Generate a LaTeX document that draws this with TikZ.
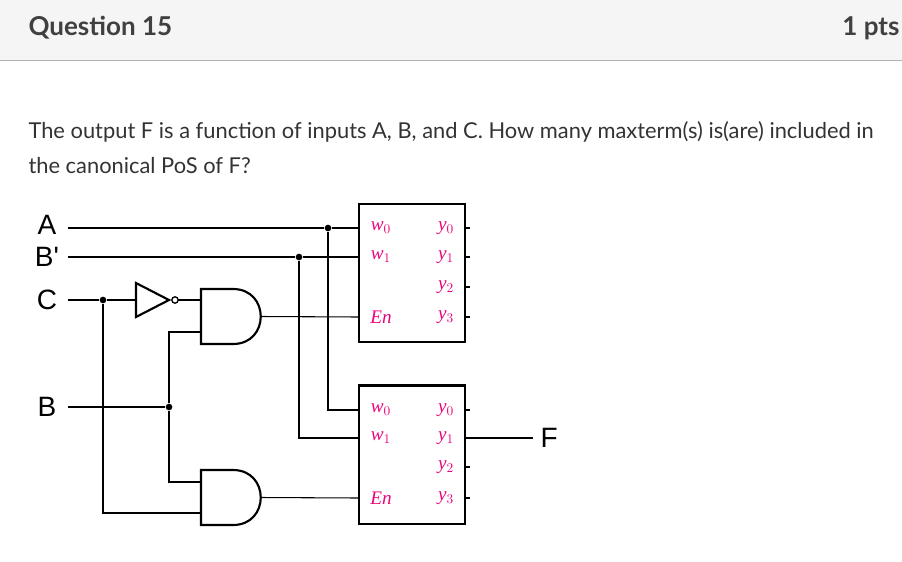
\documentclass[tikz,border=0pt]{standalone}
\usepackage{fontspec}
\setmainfont{Lato}
\setsansfont{Liberation Sans}
\newfontfamily\pinfont{Liberation Serif}
\begin{document}
\begin{tikzpicture}[x=0.75pt,y=-0.75pt,thick,
  wire/.style={line width=0.8pt},
  dot node/.style={circle,fill=black,inner sep=0pt,minimum size=5pt},
  pin node/.style={text=magenta!85!red,font=\pinfont\Large,inner sep=0pt},
  in node/.style={font=\sffamily\fontsize{21}{24}\selectfont,inner sep=0pt},
  gate/.style={line width=1.6pt,fill=white},
  dec box/.style={draw,line width=2pt}]
  \useasboundingbox (0,0) rectangle (902,561);
  \fill[black!4] (0,0) rectangle (902,60);
  \draw[black!30,line width=0.6pt] (0,60) -- (902,60);
  \node[anchor=west,inner sep=0pt,font=\fontsize{19.5}{22}\selectfont\bfseries,text=black!75] (title) at (28,28) {Question 15};
  \node[anchor=east,inner sep=0pt,font=\fontsize{19.5}{22}\selectfont\bfseries,text=black!75] (pts) at (900,28) {1 pts};
  \node[anchor=west,inner sep=0pt,font=\fontsize{16.4}{20}\selectfont,text=black!80] (q1) at (28,132) {The output F is a function of inputs A, B, and C. How many maxterm(s) is(are) included in};
  \node[anchor=west,inner sep=0pt,font=\fontsize{16.4}{20}\selectfont,text=black!80] (q2) at (28,166) {the canonical PoS of F?};
  % decoders
  \node[dec box,minimum width=79.5pt,minimum height=103.5pt,inner sep=0pt] (dec1) at (412,273) {};
  \node[dec box,minimum width=79.5pt,minimum height=104pt,inner sep=0pt] (dec2) at (412,454.5) {};
  \foreach \d/\a/\b/\c/\e in {1/228/257/287/317,2/410/438/467/498}{
    \node[pin node] (w0\d) at (381,\a) {\itshape w$_0$};
    \node[pin node] (w1\d) at (381,\b) {\itshape w$_1$};
    \node[pin node] (en\d) at (381,\e) {\itshape En};
    \foreach \y/\k in {\a/0,\b/1,\c/2,\e/3}{
      \node[pin node] (y\k\d) at (446,\y) {\itshape y$_\k$};
      \draw[wire] (465,\y) -- (470,\y);
    }
  }
  % inputs
  \node[in node] (A) at (47,225) {A};
  \node[in node] (Bp) at (47,257) {B\textquotesingle};
  \node[in node] (C) at (47,300) {C};
  \node[in node] (B) at (47,407) {B};
  \node[in node,anchor=west] (F) at (540,438) {F};
  \coordinate (a0) at (68,228);
  \coordinate (b0) at (68,257);
  \coordinate (c0) at (68,300);
  \coordinate (bb0) at (68,407);
  \node[dot node] (da) at (328,228) {};
  \node[dot node] (db) at (299,257) {};
  \node[dot node] (dc) at (103,300) {};
  \node[dot node] (dbb) at (169,407) {};
  % inverter
  \draw[gate] (136,283) -- (169,300) -- (136,317) -- cycle;
  \draw[line width=1pt] (175,300) circle (3.2);
  % and gates
  \foreach \t in {289,470}{
    \draw[gate] (201,\t) -- (233,\t) .. controls (270,\t) and (270,\t+55) .. (233,\t+55) -- (201,\t+55) -- cycle;
  }
  \draw[wire] (a0) -- (da) -- (359,228);
  \draw[wire] (b0) -- (db) -- (359,257);
  \draw[wire] (da) |- (359,410);
  \draw[wire] (db) |- (359,438);
  \draw[wire] (c0) -- (dc) -- (136,300);
  \draw[wire] (178,300) -- (201,300);
  \draw[wire] (dc) |- (201,513);
  \draw[wire] (bb0) -- (dbb);
  \draw[wire] (201,332) -| (dbb) |- (201,482);
  \draw[wire] (261,316.5) -- (359,317);
  \draw[wire] (261,497.5) -- (359,498);
  \draw[wire] (470,438) -- ([xshift=-5pt]F.west);
\end{tikzpicture}
\end{document}
